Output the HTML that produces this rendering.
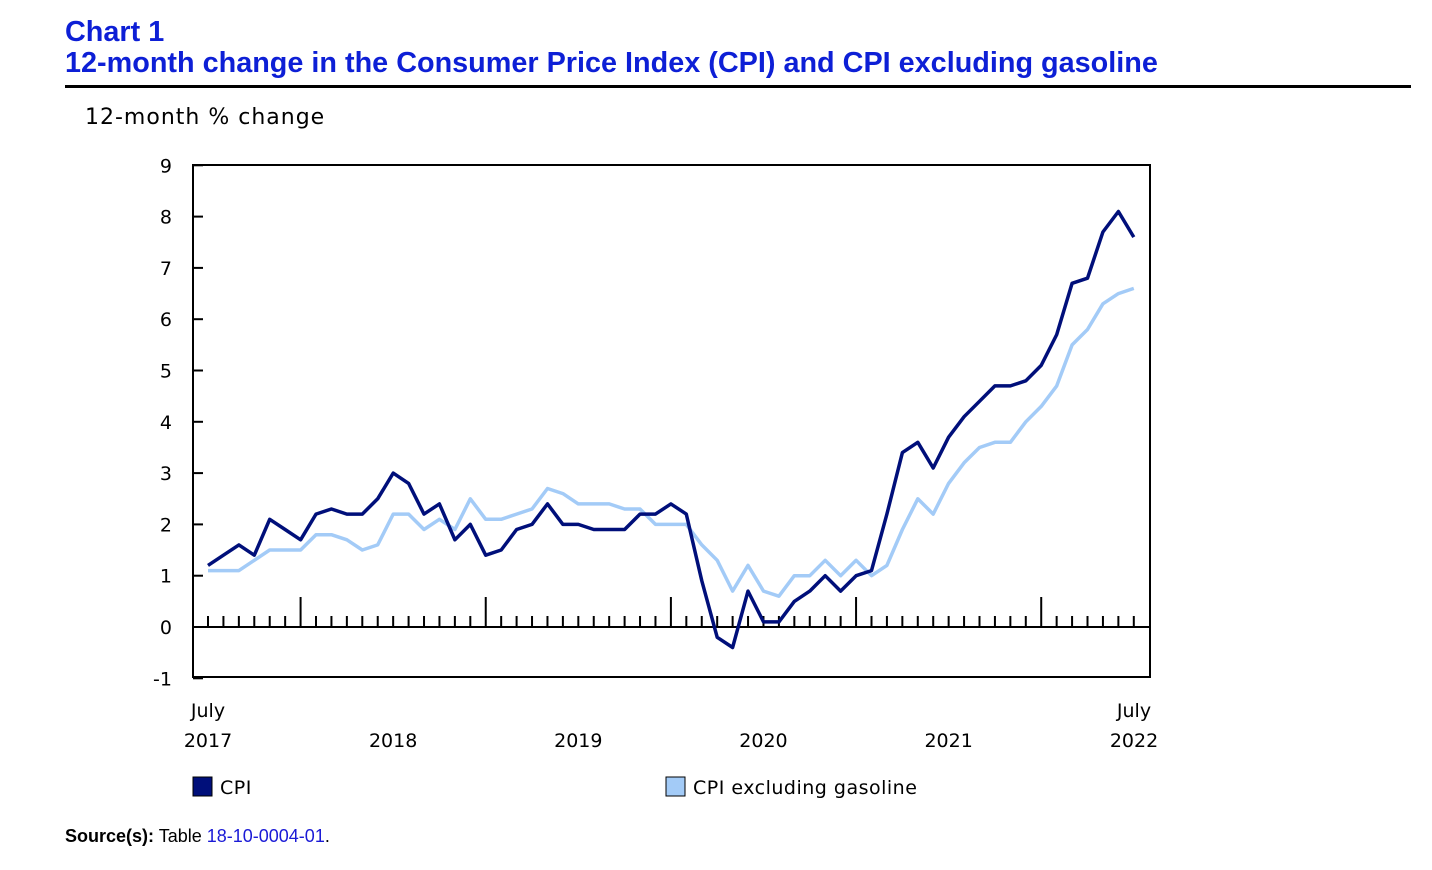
<!DOCTYPE html>
<html><head><meta charset="utf-8"><style>
body{margin:0;background:#fff;width:1432px;height:870px;overflow:hidden;font-family:"DejaVu Sans",sans-serif;}
.t{position:absolute;left:65px;color:#0d1fd6;font-family:"Liberation Sans",sans-serif;font-weight:bold;font-size:28.8px;line-height:31px;}
</style></head><body>
<div class="t" style="top:17px">Chart 1</div>
<div class="t" style="top:48px">12-month change in the Consumer Price Index (CPI) and CPI excluding gasoline</div>
<div style="position:absolute;left:65px;top:85px;width:1346px;height:3px;background:#000"></div>
<svg id="s" width="1432" height="870" style="position:absolute;left:0;top:0" font-family="DejaVu Sans, sans-serif" font-size="19"></svg>
<div style="position:absolute;left:65px;top:826px;font-family:'Liberation Sans',sans-serif;font-size:18px"><b>Source(s):</b> Table <span style="color:#1a1ad6">18-10-0004-01</span>.</div>
<script>
var cpi=[1.2,1.4,1.6,1.4,2.1,1.9,1.7,2.2,2.3,2.2,2.2,2.5,3.0,2.8,2.2,2.4,1.7,2.0,1.4,1.5,1.9,2.0,2.4,2.0,2.0,1.9,1.9,1.9,2.2,2.2,2.4,2.2,0.9,-0.2,-0.4,0.7,0.1,0.1,0.5,0.7,1.0,0.7,1.0,1.1,2.2,3.4,3.6,3.1,3.7,4.1,4.4,4.7,4.7,4.8,5.1,5.7,6.7,6.8,7.7,8.1,7.6];
var ex=[1.1,1.1,1.1,1.3,1.5,1.5,1.5,1.8,1.8,1.7,1.5,1.6,2.2,2.2,1.9,2.1,1.9,2.5,2.1,2.1,2.2,2.3,2.7,2.6,2.4,2.4,2.4,2.3,2.3,2.0,2.0,2.0,1.6,1.3,0.7,1.2,0.7,0.6,1.0,1.0,1.3,1.0,1.3,1.0,1.2,1.9,2.5,2.2,2.8,3.2,3.5,3.6,3.6,4.0,4.3,4.7,5.5,5.8,6.3,6.5,6.6];
var X=i=>208+i*15.43, Y=v=>627-v*51.3;
var h='<text x="85" y="124" font-size="22" letter-spacing="1">12-month % change</text>';
h+='<rect x="193" y="165" width="957" height="512" fill="none" stroke="#000" stroke-width="2"/>';
for(var v=-1;v<=9;v++){var y=Y(v);h+='<text x="172" y="'+(y+7)+'" text-anchor="end">'+v+'</text>';h+='<line x1="193" x2="203" y1="'+y+'" y2="'+y+'" stroke="#000" stroke-width="2"/>';}
h+='<line x1="193" x2="1150" y1="627" y2="627" stroke="#000" stroke-width="2"/>';
for(var i=0;i<61;i++){var x=X(i),maj=(i%12==6);h+='<line x1="'+x+'" x2="'+x+'" y1="'+(maj?597:616)+'" y2="627" stroke="#000" stroke-width="2"/>';}
function p(d,c){return '<polyline fill="none" stroke="'+c+'" stroke-width="3.5" stroke-linejoin="round" points="'+d.map((v,i)=>X(i).toFixed(1)+','+Y(v).toFixed(1)).join(' ')+'"/>';}
h+=p(ex,'#a3cbf7')+p(cpi,'#000f7a');
h+='<text x="208" y="717" text-anchor="middle">July</text><text x="208" y="747" text-anchor="middle">2017</text>';
['2018','2019','2020','2021'].forEach((t,k)=>{h+='<text x="'+X(12*k+12)+'" y="747" text-anchor="middle">'+t+'</text>';});
h+='<text x="1134" y="717" text-anchor="middle">July</text><text x="1134" y="747" text-anchor="middle">2022</text>';
h+='<rect x="193" y="777" width="19" height="19" fill="#000f7a" stroke="#000"/><text x="220" y="794" letter-spacing="0.5">CPI</text>';
h+='<rect x="666" y="777" width="19" height="19" fill="#a3cbf7" stroke="#000"/><text x="693" y="794" letter-spacing="0.5">CPI excluding gasoline</text>';
document.getElementById('s').innerHTML=h;
</script>
</body></html>
